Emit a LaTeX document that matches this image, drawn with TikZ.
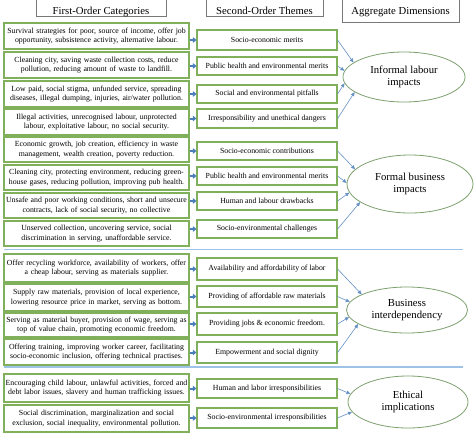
\documentclass[tikz,border=0pt]{standalone}
\usepackage{fontspec}
\setmainfont{Liberation Serif}
\usetikzlibrary{arrows.meta,shapes.geometric}
\definecolor{gbord}{RGB}{128,176,92}
\definecolor{ebord}{RGB}{125,160,110}
\definecolor{arr}{RGB}{74,126,187}
\definecolor{sepc}{RGB}{157,195,230}
\definecolor{hgray}{RGB}{120,120,120}
\begin{document}
\begin{tikzpicture}[x=1pt,y=-1pt,
  fo/.style={draw=gbord, line width=1.2pt, minimum width=185pt, minimum height=26pt, inner sep=0.5pt, text width=184pt, align=center, font=\fontsize{7.8}{9.4}\selectfont},
  so/.style={draw=gbord, line width=1.2pt, minimum width=140pt, minimum height=19pt, inner sep=0.5pt, align=center, font=\fontsize{7.8}{9.4}\selectfont},
  hd/.style={draw=hgray, line width=0.6pt, font=\fontsize{10.7}{12}\selectfont, anchor=base, text height=16pt, text depth=1pt, inner ysep=1.5pt, inner xsep=0pt},
  ag/.style={ellipse, draw=ebord, line width=0.8pt, inner sep=0pt, align=center, font=\fontsize{10.7}{12.7}\selectfont},
  bigarr/.style={draw=arr, line width=2pt, -{Triangle[length=3.5pt,width=5.5pt]}},
  thinarr/.style={draw=arr!85, line width=0.6pt, -{Triangle[length=4pt,width=3.5pt]}}
]
\useasboundingbox (0,0) rectangle (474,432);
\fill[white] (0,0) rectangle (474,432);

% headers
\node[hd, minimum width=130pt] (h1) at (101,14) {First-Order Categories};
\node[hd, minimum width=117pt] (h2) at (264.5,14) {Second-Order Themes};
\node[hd, minimum width=117pt, text depth=7pt] (h3) at (400.5,14) {Aggregate Dimensions};

% first-order boxes
\node[fo] (a1) at (96.5,36) {Survival strategies for poor, source of income, offer job\\ opportunity, subsistence activity, alternative labour.};
\node[fo] (a2) at (96.5,65) {Cleaning city, saving waste collection costs, reduce\\ pollution, reducing amount of waste to landfill.};
\node[fo] (a3) at (96.5,94) {Low paid, social stigma, unfunded service, spreading\\ diseases, illegal dumping, injuries, air/water pollution.};
\node[fo] (a4) at (96.5,122) {Illegal activities, unrecognised labour, unprotected\\ labour, exploitative labour, no social security.};
\node[fo, minimum height=25pt] (a5) at (96.5,149.5) {Economic growth, job creation, efficiency in waste\\ management, wealth creation, poverty reduction.};
\node[fo, minimum height=25pt] (a6) at (96.5,177.5) {Cleaning city, protecting environment, reducing green-\\ house gases, reducing pollution, improving pub health.};
\node[fo, minimum height=25pt] (a7) at (96.5,205.5) {Unsafe and poor working conditions, short and unsecure\\ contracts, lack of social security, no collective};
\node[fo, minimum height=25pt] (a8) at (96.5,233.5) {Unserved collection, uncovering service, social\\ discrimination in serving, unaffordable service.};
\node[fo, minimum height=28pt] (a9) at (96.5,268) {Offer recycling workforce, availability of workers, offer\\ a cheap labour, serving as materials supplier.};
\node[fo, minimum height=27pt] (a10) at (96.5,297.5) {Supply raw materials, provision of local experience,\\ lowering resource price in market, serving as bottom.};
\node[fo, minimum height=24pt] (a11) at (96.5,325) {Serving as material buyer, provision of wage, serving as\\ top of value chain, promoting economic freedom.};
\node[fo] (a12) at (96.5,352) {Offering training, improving worker career, facilitating\\ socio-economic inclusion, offering technical practises.};
\node[fo, minimum height=28pt] (a13) at (96.5,388) {Encouraging child labour, unlawful activities, forced and\\ debt labor issues, slavery and human trafficking issues.};
\node[fo, minimum height=27pt] (a14) at (96.5,418.5) {Social discrimination, marginalization and social\\ exclusion, social inequality, environmental pollution.};

% second-order boxes
\node[so, minimum height=20pt] (b1) at (267,40) {Socio-economic merits};
\node[so, minimum height=18pt] (b2) at (267,66) {Public health and environmental merits};
\node[so, minimum height=18pt] (b3) at (267,94) {Social and environmental pitfalls};
\node[so, minimum height=19pt] (b4) at (267,118.5) {Irresponsibility and unethical dangers};
\node[so, minimum height=18pt] (b5) at (267,151) {Socio-economic contributions};
\node[so, minimum height=18pt] (b6) at (267,176) {Public health and environmental merits};
\node[so, minimum height=18pt] (b7) at (267,201) {Human and labour drawbacks};
\node[so, minimum height=18pt] (b8) at (267,229) {Socio-environmental challenges};
\node[so, minimum height=22pt] (b9) at (267,269) {Availability and affordability of labor};
\node[so, minimum height=21pt] (b10) at (267,296.5) {Providing of affordable raw materials};
\node[so, minimum height=22pt] (b11) at (267,324) {Providing jobs \& economic freedom.};
\node[so, minimum height=21pt] (b12) at (267,352.5) {Empowerment and social dignity};
\node[so, minimum height=19pt] (b13) at (267,388.5) {Human and labor irresponsibilities};
\node[so, minimum height=20pt] (b14) at (267,418) {Socio-environmental irresponsibilities};

% aggregate ellipses
\node[ag, minimum width=122pt, minimum height=50pt] (e1) at (404,77) {Informal labour\\impacts};
\node[ag, minimum width=126pt, minimum height=58pt] (e2) at (410,184) {Formal business\\impacts};
\node[ag, minimum width=121pt, minimum height=46pt] (e3) at (407,310) {Business\\interdependency};
\node[ag, minimum width=120pt, minimum height=52pt] (e4) at (408,402) {Ethical\\implications};

% separators
\draw[sepc, line width=1.1pt] (4,249.5) -- (463,249.5);
\draw[sepc, line width=1.1pt] (4,367) -- (463,367);

% first -> second arrows
\foreach \i in {1,...,14}{
  \draw[bigarr] (b\i.west -| a\i.east) -- (b\i.west);
}

% second -> aggregate arrows
\draw[thinarr] (b1.east) -- (e1.164);
\draw[thinarr] (b2.east) -- (e1.174);
\draw[thinarr] (b3.east) -- (e1.186);
\draw[thinarr] (b4.east) -- (e1.197);
\draw[thinarr] (b5.east) -- (e2.165);
\draw[thinarr] (b6.east) -- (e2.179);
\draw[thinarr] (b7.east) -- (e2.188);
\draw[thinarr] (b8.east) -- (e2.200);
\draw[thinarr] (b9.east) -- (e3.161);
\draw[thinarr] (b10.east) -- (e3.172);
\draw[thinarr] (b11.east) -- (e3.187);
\draw[thinarr] (b12.east) -- (e3.196);
\draw[thinarr] (b13.east) -- (e4.172);
\draw[thinarr] (b14.east) -- (e4.190);
\end{tikzpicture}
\end{document}
